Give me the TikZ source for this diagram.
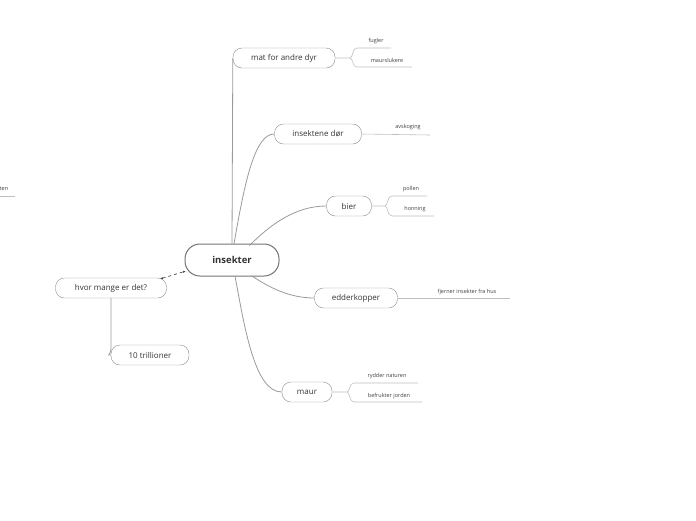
\documentclass[tikz,border=0pt]{standalone}
\usepackage{fontspec}
\setmainfont{Open Sans}
\usetikzlibrary{arrows.meta}
\begin{document}
\begin{tikzpicture}[x=1pt,y=-1pt,
 topic/.style={draw=black!45,rounded corners=9pt,minimum height=20pt,inner sep=0pt,font=\fontsize{8}{9}\selectfont,text=black!80},
 leaf/.style={inner sep=0pt,font=\fontsize{5.5}{6}\selectfont,text=black!75},
 con/.style={draw=black!40,line width=0.8pt},
 lcon/.style={draw=black!25,line width=0.6pt}]
\useasboundingbox (0,0) rectangle (696,520);
\node[draw=black!55,line width=1pt,rounded corners=15pt,minimum width=94pt,minimum height=32pt,inner sep=0pt,font=\bfseries\fontsize{9.5}{11}\selectfont,text=black!80] (ins) at (232,260) {insekter};
\node[topic,minimum width=102pt] (mat) at (284,58) {mat for andre dyr};
\node[topic,minimum width=87pt] (dor) at (318,134) {insektene dør};
\node[topic,minimum width=45pt] (bier) at (349,206) {bier};
\node[topic,minimum width=83pt] (edd) at (356,298) {edderkopper};
\node[topic,minimum width=50pt] (maur) at (307,392) {maur};
\node[topic,minimum width=111pt] (hvor) at (111,288) {hvor mange er det?};
\node[topic,minimum width=78pt] (tri) at (150,355) {10 trillioner};
% leaves
\node[leaf] (fug) at (376,41) {fugler};
\node[leaf] (mau) at (387,60) {maurslukere};
\node[leaf] (avs) at (408,127) {avskoging};
\node[leaf] (pol) at (411,189) {pollen};
\node[leaf] (hon) at (415,209) {honning};
\node[leaf] (fje) at (467,292) {fjerner insekter fra hus};
\node[leaf] (ryd) at (387,376) {rydder naturen};
\node[leaf] (bef) at (389,396) {befrukter jorden};
\node[leaf] (ten) at (4,189) {ten};
% main connectors
\draw[con] (ins.north west -| 232,244) -- (mat.west);
\draw[con] (234,244) .. controls (245,180) and (255,134) .. (dor.west);
\draw[con] (ins.north east) ++(-30,2) .. controls (270,225) and (295,206) .. (bier.west);
\draw[con] (252,276) .. controls (270,288) and (290,298) .. (edd.west);
\draw[con] (235,276) .. controls (245,330) and (255,392) .. (maur.west);
\draw[con] (hvor.south) -- ++(0,50) .. controls +(0,7) and +(-5,0) .. (tri.west);
\draw[black!70,dashed,line width=0.7pt,{Latex[length=3pt]}-{Latex[length=3pt]}] (160,279) -- (186,271);
% leaf connectors
\coordinate (m1) at (350,58);
\draw[lcon] (mat.east) -- (m1) .. controls (353,58) and (352,48) .. (357,48) -- (391,48);
\draw[lcon] (m1) .. controls (353,58) and (352,67) .. (357,67) -- (412,67);
\draw[lcon] (dor.east) -- (430,135);
\coordinate (b1) at (385,206);
\draw[lcon] (bier.east) -- (b1) .. controls (388,206) and (387,196) .. (392,196) -- (427,196);
\draw[lcon] (b1) .. controls (388,206) and (387,216) .. (392,216) -- (434,216);
\draw[lcon] (edd.east) -- (510,298);
\coordinate (r1) at (347,392);
\draw[lcon] (maur.east) -- (r1) .. controls (350,392) and (349,383) .. (354,383) -- (418,383);
\draw[lcon] (r1) .. controls (350,392) and (349,402) .. (354,402) -- (422,402);
\draw[lcon] (0,196) -- (15,196);
\end{tikzpicture}
\end{document}
